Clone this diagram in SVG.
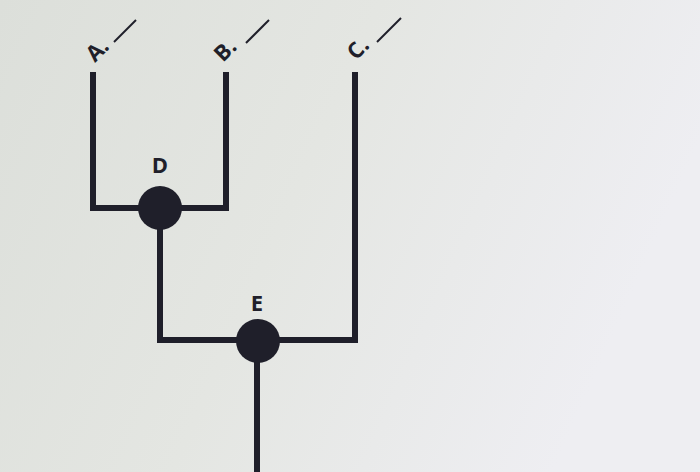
<svg xmlns="http://www.w3.org/2000/svg" width="700" height="472" viewBox="0 0 700 472">
<defs>
<linearGradient id="bg" x1="0" y1="0" x2="1" y2="0.3">
<stop offset="0" stop-color="#dcdfda"/>
<stop offset="0.5" stop-color="#e4e6e2"/>
<stop offset="1" stop-color="#eeeef2"/>
</linearGradient>
<style>
.br{fill:none;stroke:#1f1f2a;stroke-width:6;stroke-linejoin:miter;stroke-linecap:butt}
.nd{fill:#1f1f2a}
.lb{font-family:"Open Sans","Liberation Sans",sans-serif;font-weight:bold;font-size:22px;fill:#1f1f2a}
.bl{stroke:#1f1f2a;stroke-width:2}
</style>
</defs>
<rect width="700" height="472" fill="url(#bg)"/>
<g id="connectors">
<path class="br" d="M93,72 V208 H226 V72"/>
<path class="br" d="M160,208 V340 H355 V72"/>
<path class="br" d="M257,340 V472"/>
</g>
<g id="A">
<text class="lb" transform="translate(95,63) rotate(-45)">A.</text>
<line class="bl" x1="114" y1="42" x2="136" y2="20"/>
</g>
<g id="B">
<text class="lb" transform="translate(223,63) rotate(-45)">B.</text>
<line class="bl" x1="246" y1="43" x2="269" y2="20"/>
</g>
<g id="C">
<text class="lb" transform="translate(356,61) rotate(-45)">C.</text>
<line class="bl" x1="377" y1="42" x2="401" y2="18"/>
</g>
<g id="D">
<circle class="nd" cx="160" cy="208" r="22"/>
<text class="lb" x="160" y="173" text-anchor="middle">D</text>
</g>
<g id="E">
<circle class="nd" cx="258" cy="341" r="22"/>
<text class="lb" x="257" y="311" text-anchor="middle">E</text>
</g>
</svg>
